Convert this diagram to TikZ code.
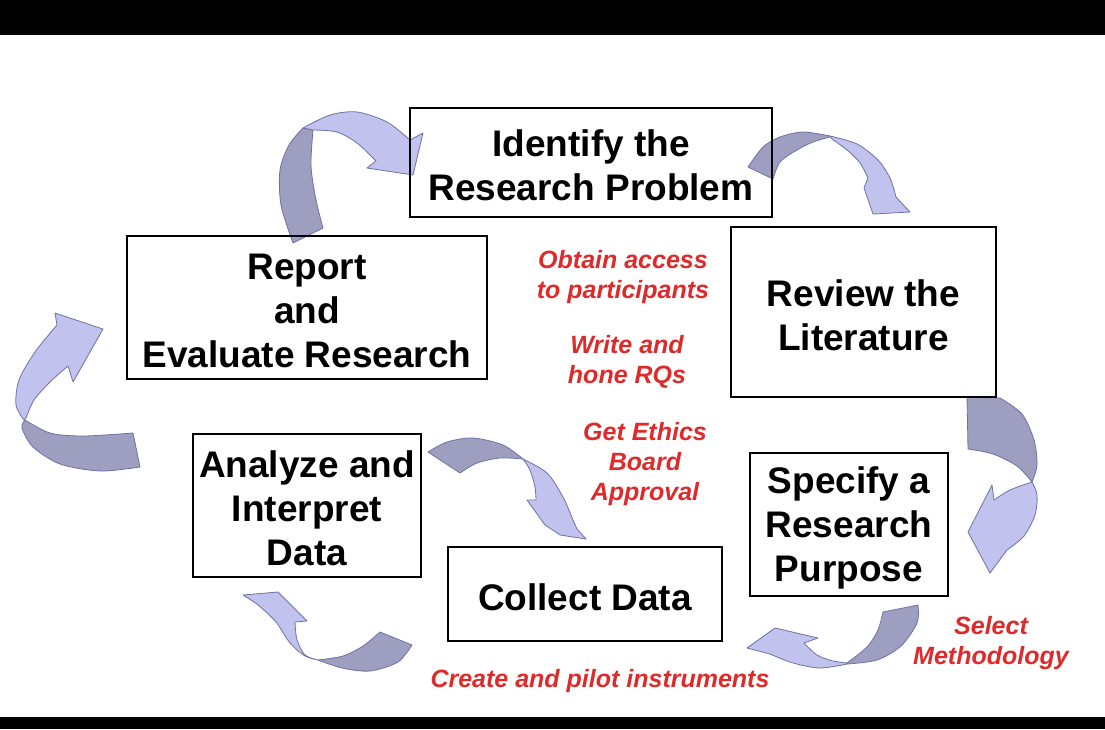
\documentclass[tikz,border=0pt]{standalone}
\usepackage{fontspec}
\setmainfont{Liberation Sans}
\definecolor{notered}{RGB}{222,42,42}
\definecolor{arrline}{RGB}{112,112,165}
\definecolor{adarkc}{RGB}{158,158,192}
\definecolor{alightc}{RGB}{194,194,238}
\begin{document}
\begin{tikzpicture}[x=1pt,y=-1pt,
  box/.style={draw=black, line width=2.8pt, inner sep=0pt},
  boxtext/.style={inner sep=0pt, align=center, yshift=-3pt,
    font=\bfseries\fontsize{37}{44}\selectfont},
  note/.style={text=notered, align=center, inner sep=0pt,
    font=\bfseries\itshape\fontsize{25}{30}\selectfont},
  adark/.style={draw=arrline, line width=0.8pt, fill=adarkc, line join=round},
  alight/.style={draw=arrline, line width=0.8pt, fill=alightc, line join=round}]
\useasboundingbox (0,0) rectangle (1105,729);
\fill[white] (0,0) rectangle (1105,729);
\fill[black] (0,0) rectangle (1105,35);
\fill[black] (0,717) rectangle (1105,729);

% arrow 1: Report -> Identify
\path[adark] plot[smooth] coordinates {(293,243)(281,205)(280,170)(289,145)(303,128)}
  -- plot[smooth] coordinates {(313,130)(311,166)(316,200)(323,228)} -- cycle;
\path[alight] plot[smooth] coordinates {(303,128)(330,115)(357,112)(387,122)(410,140)}
  -- (423,133) -- (413,175) -- (367,168) -- (376,161)
  -- plot[smooth] coordinates {(376,161)(357,143)(337,132)(313,130)} -- cycle;

% arrow 2: Identify -> Review
\path[adark] plot[smooth] coordinates {(748,167)(763,147)(780,137)(803,132)(830,136)}
  -- plot[smooth] coordinates {(830,137)(813,142)(797,150)(780,162)(773,179)} -- cycle;
\path[alight] plot[smooth] coordinates {(830,136)(857,144)(878,160)(890,178)(896,197)}
  -- (910,212) -- (873,214) -- (864,188) -- (868,178)
  -- plot[smooth] coordinates {(868,178)(860,163)(847,150)(832,139)} -- cycle;

% arrow 3: Review -> Specify
\path[adark] (967,397) -- (1000,398)
  -- plot[smooth] coordinates {(1000,398)(1022,414)(1034,440)(1037,465)(1032,482)}
  -- plot[smooth] coordinates {(1032,482)(1017,466)(993,454)(968,449)} -- cycle;
\path[alight] plot[smooth] coordinates {(1032,482)(1037,495)(1035,515)(1024,536)(1007,550)}
  -- (990,573) -- (968,532) -- (992,485) -- (994,500)
  -- plot[smooth] coordinates {(994,500)(1010,490)(1032,482)} -- cycle;

% arrow 4: Specify -> Collect
\path[adark] (883,612) -- (918,605)
  -- plot[smooth] coordinates {(918,605)(917,623)(901,646)(877,660)(847,664)}
  -- plot[smooth] coordinates {(847,663)(867,647)(878,630)(883,612)} -- cycle;
\path[alight] plot[smooth] coordinates {(847,664)(820,668)(793,663)(770,654)}
  -- (747,648) -- (775,628) -- (818,638) -- (804,643)
  -- plot[smooth] coordinates {(804,643)(817,655)(833,661)(847,663)} -- cycle;

% arrow 5: Collect -> Analyze
\path[adark] (380,632) -- (412,645)
  -- plot[smooth] coordinates {(412,645)(398,662)(370,671)(342,668)(318,660)}
  -- plot[smooth] coordinates {(318,660)(343,656)(363,646)(380,632)} -- cycle;
\path[alight] plot[smooth] coordinates {(318,660)(305,655)(297,640)(295,622)}
  -- (307,621) -- (278,592) -- (243,595)
  -- plot[smooth] coordinates {(243,595)(258,605)(276,622)(290,643)(305,656)(318,660)} -- cycle;

% arrow 6: Analyze -> Report (left)
\path[adark] plot[smooth] coordinates {(25,420)(50,433)(83,436)(133,433)}
  -- (140,467)
  -- plot[smooth] coordinates {(140,467)(100,471)(60,464)(33,447)(22,428)(25,420)} -- cycle;
\path[alight] plot[smooth] coordinates {(24,420)(16,405)(19,380)(35,352)(57,325)}
  -- (55,313) -- (103,329) -- (73,382) -- (68,366)
  -- plot[smooth] coordinates {(68,366)(50,382)(34,400)(26,418)} -- cycle;

% arrow 7: Analyze -> Collect (middle)
\path[adark] plot[smooth] coordinates {(428,452)(447,442)(473,438)(503,445)(523,459)}
  -- plot[smooth] coordinates {(523,459)(500,458)(477,463)(460,473)} -- cycle;
\path[alight] plot[smooth] coordinates {(523,459)(547,473)(563,497)(573,520)(577,529)}
  -- (586,539) -- (560,535) -- (545,525) -- (527,500) -- (536,500)
  -- plot[smooth] coordinates {(536,500)(535,487)(530,470)(523,459)} -- cycle;

% boxes
\node[box, minimum width=362, minimum height=109,
  label={[boxtext]center:{Identify the\\Research Problem}}] (identify) at (591,162.5) {};
\node[box, minimum width=265, minimum height=170,
  label={[boxtext]center:{Review the\\Literature}}] (review) at (863.5,312) {};
\node[box, minimum width=360, minimum height=143,
  label={[boxtext]center:{Report\\and\\Evaluate Research}}] (report) at (307,307.5) {};
\node[box, minimum width=228, minimum height=143,
  label={[boxtext]center:{Analyze and\\Interpret\\Data}}] (analyze) at (307,505.5) {};
\node[box, minimum width=274, minimum height=94,
  label={[boxtext]center:{Collect Data}}] (collect) at (585,594) {};
\node[box, minimum width=198, minimum height=143,
  label={[boxtext]center:{Specify a\\Research\\Purpose}}] (specify) at (849,524.5) {};

% red notes
\node[note] (access) at (623,277) {Obtain access\\to participants};
\node[note] (rqs) at (627,362) {Write and\\hone RQs};
\node[note] (ethics) at (645,464) {Get Ethics\\Board\\Approval};
\node[note] (pilot) at (600,681) {Create and pilot instruments};
\node[note] (method) at (991,643) {Select\\Methodology};
\end{tikzpicture}
\end{document}
